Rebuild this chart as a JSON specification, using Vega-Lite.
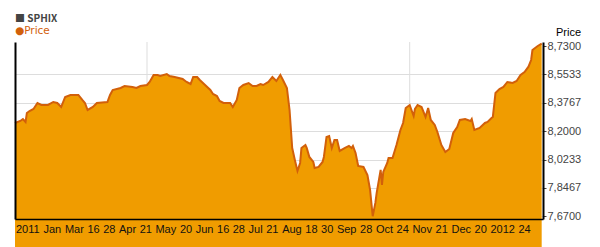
{
  "$schema": "https://vega.github.io/schema/vega-lite/v6.json",
  "width": 528,
  "height": 177,
  "autosize": {"type": "none"},
  "padding": {"left": 15, "top": 42, "right": 57, "bottom": 28},
  "background": "white",
  "config": {"view": {"stroke": null}, "font": "Liberation Sans"},
  "title": {
    "text": "■ SPHIX",
    "subtitle": "●Price",
    "anchor": "start",
    "frame": "group",
    "offset": -10,
    "font": "Noto Sans CJK SC",
    "fontSize": 10,
    "fontWeight": "bold",
    "color": "#444444",
    "subtitleFont": "DejaVu Sans",
    "subtitleFontSize": 10.5,
    "subtitleColor": "#D2600A",
    "subtitlePadding": 2
  },
  "datasets": {
    "grid": [{"day": 100}, {"day": 299}],
    "prices": [
      {"day": 0, "price": 8.2508}, {"day": 4, "price": 8.2633}, {"day": 6, "price": 8.2757}, {"day": 8, "price": 8.2571},
      {"day": 9, "price": 8.3131}, {"day": 11, "price": 8.3255}, {"day": 14, "price": 8.338}, {"day": 17, "price": 8.3753},
      {"day": 20, "price": 8.3628}, {"day": 25, "price": 8.3628}, {"day": 29, "price": 8.3815}, {"day": 32, "price": 8.3753},
      {"day": 35, "price": 8.3504}, {"day": 38, "price": 8.4126}, {"day": 42, "price": 8.4251}, {"day": 48, "price": 8.4251},
      {"day": 51, "price": 8.394}, {"day": 53, "price": 8.3753}, {"day": 55, "price": 8.3317}, {"day": 59, "price": 8.3504},
      {"day": 62, "price": 8.3753}, {"day": 70, "price": 8.3815}, {"day": 72, "price": 8.4251}, {"day": 74, "price": 8.4562},
      {"day": 80, "price": 8.4686}, {"day": 83, "price": 8.4811}, {"day": 89, "price": 8.4749}, {"day": 92, "price": 8.4686},
      {"day": 95, "price": 8.4811}, {"day": 100, "price": 8.4873}, {"day": 102, "price": 8.506}, {"day": 105, "price": 8.5495},
      {"day": 108, "price": 8.5495}, {"day": 110, "price": 8.5433}, {"day": 115, "price": 8.5558}, {"day": 117, "price": 8.5433},
      {"day": 121, "price": 8.5371}, {"day": 127, "price": 8.5246}, {"day": 130, "price": 8.506}, {"day": 133, "price": 8.4935},
      {"day": 135, "price": 8.5371}, {"day": 138, "price": 8.5371}, {"day": 140, "price": 8.5184}, {"day": 144, "price": 8.4873},
      {"day": 148, "price": 8.4562}, {"day": 150, "price": 8.4313}, {"day": 153, "price": 8.4189}, {"day": 155, "price": 8.3877},
      {"day": 158, "price": 8.3753}, {"day": 163, "price": 8.3753}, {"day": 165, "price": 8.3504}, {"day": 168, "price": 8.394},
      {"day": 170, "price": 8.4686}, {"day": 173, "price": 8.4873}, {"day": 177, "price": 8.4997}, {"day": 180, "price": 8.4811},
      {"day": 183, "price": 8.4811}, {"day": 186, "price": 8.4935}, {"day": 188, "price": 8.4873}, {"day": 192, "price": 8.506},
      {"day": 195, "price": 8.5371}, {"day": 198, "price": 8.5122}, {"day": 201, "price": 8.5495}, {"day": 203, "price": 8.5184},
      {"day": 206, "price": 8.4686}, {"day": 208, "price": 8.3317}, {"day": 210, "price": 8.0953}, {"day": 212, "price": 8.0206},
      {"day": 214, "price": 7.9521}, {"day": 216, "price": 8.0019}, {"day": 217, "price": 8.0953}, {"day": 220, "price": 8.1139},
      {"day": 221, "price": 8.0953}, {"day": 223, "price": 8.0393}, {"day": 226, "price": 8.0081}, {"day": 227, "price": 7.9708},
      {"day": 230, "price": 7.977}, {"day": 233, "price": 8.0081}, {"day": 234, "price": 8.0393}, {"day": 236, "price": 8.1637},
      {"day": 238, "price": 8.1699}, {"day": 240, "price": 8.0953}, {"day": 242, "price": 8.145}, {"day": 244, "price": 8.145},
      {"day": 246, "price": 8.0766}, {"day": 250, "price": 8.0953}, {"day": 253, "price": 8.1077}, {"day": 255, "price": 8.0953},
      {"day": 256, "price": 8.1077}, {"day": 258, "price": 8.0642}, {"day": 260, "price": 7.9832}, {"day": 264, "price": 7.977},
      {"day": 267, "price": 7.9272}, {"day": 269, "price": 7.8339}, {"day": 271, "price": 7.67}, {"day": 273, "price": 7.753},
      {"day": 274, "price": 7.8152}, {"day": 277, "price": 7.9584}, {"day": 278, "price": 7.865}, {"day": 279, "price": 7.9459},
      {"day": 282, "price": 8.0019}, {"day": 283, "price": 8.033}, {"day": 286, "price": 8.033}, {"day": 289, "price": 8.1139},
      {"day": 292, "price": 8.2073}, {"day": 294, "price": 8.2508}, {"day": 296, "price": 8.3442}, {"day": 299, "price": 8.3628},
      {"day": 302, "price": 8.2944}, {"day": 303, "price": 8.338}, {"day": 305, "price": 8.3628}, {"day": 308, "price": 8.3504},
      {"day": 311, "price": 8.2882}, {"day": 313, "price": 8.3442}, {"day": 315, "price": 8.2695}, {"day": 318, "price": 8.2384},
      {"day": 320, "price": 8.1948}, {"day": 323, "price": 8.1139}, {"day": 326, "price": 8.0704}, {"day": 329, "price": 8.089},
      {"day": 332, "price": 8.1886}, {"day": 335, "price": 8.2259}, {"day": 337, "price": 8.2695}, {"day": 341, "price": 8.2757},
      {"day": 345, "price": 8.2633}, {"day": 346, "price": 8.2757}, {"day": 348, "price": 8.2073}, {"day": 352, "price": 8.2197},
      {"day": 356, "price": 8.2508}, {"day": 358, "price": 8.2571}, {"day": 361, "price": 8.282}, {"day": 362, "price": 8.2882},
      {"day": 364, "price": 8.4375}, {"day": 367, "price": 8.4624}, {"day": 370, "price": 8.4749}, {"day": 373, "price": 8.506},
      {"day": 377, "price": 8.4997}, {"day": 380, "price": 8.5122}, {"day": 383, "price": 8.5495}, {"day": 386, "price": 8.5682},
      {"day": 389, "price": 8.6013}, {"day": 391, "price": 8.6429}, {"day": 392, "price": 8.7051}, {"day": 396, "price": 8.73},
      {"day": 399, "price": 8.745}
    ]
  },
  "encoding": {
    "x": {
      "field": "day",
      "type": "quantitative",
      "scale": {"domain": [0, 400], "nice": false, "zero": false},
      "axis": {
        "values": [9.3, 27.9, 44.6, 59.1, 71.1, 84.9, 98.7, 113.9, 129.2, 143.2, 157.3, 169.2, 181.9, 194.6, 209.4, 224.2, 236.1, 250.9, 265.7, 279.5, 293.3, 308.1, 322.9, 337.7, 352.4, 369.1, 385.7],
        "labelExpr": "['2011','Jan','Mar','16','28','Apr','21','May','20','Jun','16','28','Jul','21','Aug','18','30','Sep','28','Oct','24','Nov','21','Dec','20','2012','24'][indexof([9.3, 27.9, 44.6, 59.1, 71.1, 84.9, 98.7, 113.9, 129.2, 143.2, 157.3, 169.2, 181.9, 194.6, 209.4, 224.2, 236.1, 250.9, 265.7, 279.5, 293.3, 308.1, 322.9, 337.7, 352.4, 369.1, 385.7], datum.value)]",
        "grid": false,
        "ticks": false,
        "tickSize": 0,
        "labelPadding": 4,
        "domainColor": "#000000",
        "domainWidth": 1.5,
        "labelFont": "Liberation Sans",
        "labelFontSize": 11,
        "labelColor": "#111111",
        "labelOverlap": false,
        "labelFlush": false,
        "labelBound": false,
        "title": null,
        "zindex": 1
      }
    }
  },
  "layer": [
    {
      "data": {"name": "grid"},
      "mark": {"type": "rule", "color": "#dddddd", "strokeWidth": 1}
    },
    {
      "data": {"name": "prices"},
      "mark": {"type": "area", "color": "#F09C00", "opacity": 1},
      "encoding": {
        "y": {
          "field": "price",
          "type": "quantitative",
          "scale": {"domain": [7.653, 8.755], "nice": false, "zero": false},
          "axis": {
            "orient": "right",
            "values": [7.67, 7.8467, 8.0233, 8.2, 8.3767, 8.5533, 8.73],
            "labelExpr": "replace(format(datum.value, '.4f'), '.', ',')",
            "grid": true,
            "gridColor": {"condition": {"test": "datum.value > 8.7", "value": "transparent"}, "value": "#dddddd"},
            "domainColor": "#000000",
            "domainWidth": 2,
            "tickSize": 3,
            "tickColor": "#444444",
            "labelPadding": 1,
            "labelFont": "Liberation Sans",
            "labelFontSize": 11,
            "labelColor": "#444444",
            "title": "Price",
            "titleAngle": 0,
            "titleX": 25,
            "titleY": -10,
            "titleAlign": "center",
            "titleBaseline": "middle",
            "titleFont": "Liberation Sans",
            "titleFontWeight": "normal",
            "titleFontSize": 11,
            "titleColor": "#000000"
          }
        }
      }
    },
    {
      "data": {"name": "prices"},
      "mark": {"type": "line", "color": "#D2600A", "strokeWidth": 2},
      "encoding": {
        "y": {
          "field": "price",
          "type": "quantitative",
          "scale": {"domain": [7.653, 8.755], "nice": false, "zero": false},
          "axis": {
            "orient": "left",
            "labels": false,
            "ticks": false,
            "grid": false,
            "domainColor": "#000000",
            "domainWidth": 2,
            "title": null,
            "zindex": 1
          }
        }
      }
    }
  ],
  "resolve": {"axis": {"y": "independent"}}
}
